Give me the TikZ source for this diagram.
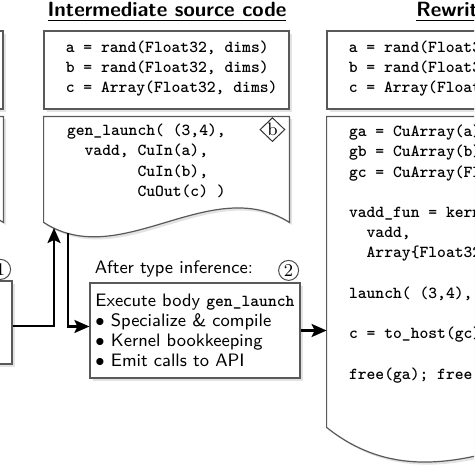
\documentclass[tikz,border=0pt]{standalone}
\usetikzlibrary{shapes.geometric, arrows.meta, positioning, shadows}

\begin{document}
\begin{tikzpicture}[
    x=0.5pt, y=-0.5pt,
    codebox/.style={rectangle, draw=black!65, line width=0.6pt, fill=white, drop shadow={shadow xshift=1.3pt, shadow yshift=-1.3pt, fill=black!22}},
    docframe/.style={rectangle, inner sep=0pt},
    docline/.style={draw=black!65, line width=0.6pt, fill=white, drop shadow={shadow xshift=1.3pt, shadow yshift=-1.3pt, fill=black!22}},
    codetxt/.style={inner sep=0pt, align=left, font=\fontsize{8.4}{10.1}\selectfont\ttfamily\bfseries},
    sanstxt/.style={inner sep=0pt, font=\fontsize{9}{10.1}\selectfont\sffamily},
    headline/.style={inner sep=0pt, font=\fontsize{10.3}{12}\selectfont\sffamily\bfseries},
    stepnum/.style={circle, draw=black!70, line width=0.5pt, fill=white, inner sep=0pt, minimum size=10pt, font=\fontsize{9}{9}\selectfont\rmfamily},
    tagmark/.style={diamond, draw=black!80, line width=0.5pt, fill=white, inner sep=0pt, minimum width=12.5pt, minimum height=12pt, font=\fontsize{9}{9}\selectfont\rmfamily},
    arrow/.style={-{Stealth[length=7.5pt,width=6.5pt,inset=1.5pt]}, line width=1.2pt}
]
\useasboundingbox (0,0) rectangle (474,474);
\clip (0,0) rectangle (474,474);

% Left column (cut off by the frame)
\node[codebox, minimum width=122.5pt, minimum height=39pt] (linit) at (-119.5,70) {};
\node[docframe, minimum width=122.5pt, minimum height=52.5pt] (lcode) at (-119.5,169.5) {};
\draw[docline] (lcode.south west) .. controls +(77,50) and +(-79,-50) .. (lcode.south east) -- (lcode.north east) -- (lcode.north west) -- cycle;
\node[tagmark] (la) at ([xshift=-8.5pt,yshift=-6.5pt]lcode.north east) {a};
\node[codebox, minimum width=105pt, minimum height=41.5pt] (lexec) at (-93,322.5) {};
\node[stepnum] (num1) at ([xshift=-6pt,yshift=5.5pt]lexec.north east) {1};

% Middle column: intermediate source code
\node[headline, anchor=base] (midhead) at (167,17) {\underline{Intermediate source code}};
\node[codebox, minimum width=122.5pt, minimum height=39pt] (midinit) at (166.5,70) {};
\node[codetxt, below right=5pt and 11pt of midinit.north west] (midinittxt) {a = rand(Float32, dims)\\b = rand(Float32, dims)\\c = Array(Float32, dims)};
\node[docframe, minimum width=122.5pt, minimum height=52.5pt] (midcode) at (166.5,169.5) {};
\draw[docline] (midcode.south west) .. controls +(77,50) and +(-79,-50) .. (midcode.south east) -- (midcode.north east) -- (midcode.north west) -- cycle;
\node[codetxt, below right=3.5pt and 11.5pt of midcode.north west] (midcodetxt) {gen\_launch( (3,4),\\~~vadd, CuIn(a),\\~~~~~~~~CuIn(b),\\~~~~~~~~CuOut(c) )};
\node[tagmark] (mb) at ([xshift=-8.5pt,yshift=-6.5pt]midcode.north east) {b};

% Type inference step
\node[codebox, sanstxt, align=left, inner xsep=2.5pt, minimum width=105pt, minimum height=47.5pt] (exec) at (195,330.5)
    {Execute body {\fontsize{8.4}{10.1}\selectfont\ttfamily\bfseries gen\_launch}\\$\bullet$ Specialize \& compile\\$\bullet$ Kernel bookkeeping\\$\bullet$ Emit calls to API};
\node[sanstxt, above right=2.5pt and 2.5pt of exec.north west] (inferlbl) {After type inference:};
\node[stepnum] (num2) at ([xshift=-6pt,yshift=6pt]exec.north east) {2};

% Right column: rewritten source code
\node[headline, anchor=base west] (rhead) at (416,17) {\underline{Rewritten source code}};
\node[codebox, minimum width=240pt, minimum height=39pt] (rinit) at (567,70) {};
\node[codetxt, below right=5pt and 11pt of rinit.north west] (rinittxt) {a = rand(Float32, dims)\\b = rand(Float32, dims)\\c = Array(Float32, dims)};
\node[docframe, minimum width=240pt, minimum height=155pt] (rcode) at (567,272) {};
\draw[docline] (rcode.south west) .. controls +(150,120) and +(-154,-120) .. (rcode.south east) -- (rcode.north east) -- (rcode.north west) -- cycle;
\node[codetxt, below right=4pt and 11pt of rcode.north west] (rcodetxt) {ga = CuArray(a)\\gb = CuArray(b)\\gc = CuArray(Float32, dims)\\[10.1pt]vadd\_fun = kernel\_compile(\\~~vadd,\\~~Array\{Float32,2\}, ... )\\[10.1pt]launch( (3,4), vadd\_fun, ga, gb, gc )\\[10.1pt]c = to\_host(gc)\\[10.1pt]free(ga); free(gb); free(gc)};

% Connectors
\coordinate (midin) at (54,228);
\coordinate (midout) at (68,233);
\draw[arrow] ([yshift=-1.75pt]lexec.east) -| (midin);
\draw[arrow] (midout) |- ([yshift=2pt]exec.west);
\draw[arrow] (exec.east) -- (exec.east -| rcode.west);

\end{tikzpicture}
\end{document}
